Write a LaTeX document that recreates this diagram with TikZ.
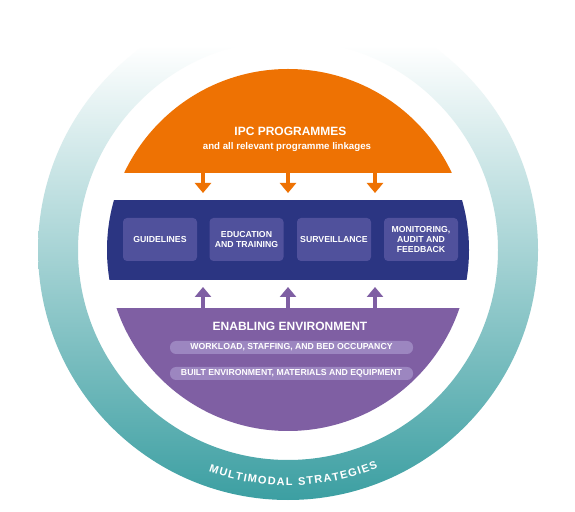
\documentclass[tikz,border=0pt]{standalone}
\usepackage{fontspec}
\setmainfont{Liberation Sans}
\usetikzlibrary{arrows.meta}
\definecolor{ipcorange}{RGB}{238,114,3}
\definecolor{navyband}{RGB}{43,53,130}
\definecolor{boxblue}{RGB}{80,81,156}
\definecolor{envpurple}{RGB}{127,95,163}
\definecolor{barpurple}{RGB}{156,134,192}
\definecolor{ringteal}{RGB}{60,159,162}
\begin{document}
\begin{tikzpicture}[x=1pt,y=1pt,
  box/.style={fill=boxblue, rounded corners=4pt, minimum width=74pt, minimum height=43pt,
    inner sep=0pt, text=white, font=\bfseries\fontsize{8.7}{10}\selectfont, align=center},
  bar/.style={fill=barpurple, rounded corners=6pt, minimum width=243pt, minimum height=13pt,
    inner sep=0pt, text=white, font=\bfseries\fontsize{8.7}{10}\selectfont},
  headtext/.style={text=white, inner sep=0pt, font=\bfseries\fontsize{12}{14}\selectfont},
  subtext/.style={text=white, inner sep=0pt, font=\bfseries\fontsize{9.7}{12}\selectfont},
  ringchar/.style={text=white, inner sep=0pt, anchor=base, font=\bfseries\fontsize{11}{13}\selectfont},
  downarrow/.style={draw=ipcorange, line width=3.5pt, -{Triangle[width=16pt,length=10pt,fill=ipcorange]}},
  uparrow/.style={draw=envpurple, line width=3.5pt, -{Triangle[width=16pt,length=10pt,fill=envpurple]}}
]
\useasboundingbox (0,0) rectangle (575,511);
\fill[white] (0,0) rectangle (575,511);
\coordinate (C) at (288,261);

% outer ring, fading to white at the top
\begin{scope}[even odd rule]
  \clip (C) circle (250pt) (C) circle (210pt);
  \shade[top color=white, bottom color=ringteal] (0,11) rectangle (575,466);
  \fill[white] (0,466) rectangle (575,511);
\end{scope}

% inner disc segments
\begin{scope}
  \clip (C) circle (181pt);
  \fill[ipcorange] (0,338) rectangle (575,511);
  \fill[navyband] (0,231) rectangle (575,311);
  \fill[envpurple] (0,0) rectangle (575,203);
\end{scope}

% texts of the orange part
\node[headtext] (ipc) at (290.5,380) {IPC PROGRAMMES};
\node[subtext] (ipcsub) at (287,364) {and all relevant programme linkages};

% boxes in the navy band
\node[box] (guide) at (160,271.5) {GUIDELINES};
\node[box] (edu) at (246.5,271.5) {EDUCATION\\AND TRAINING};
\node[box] (surv) at (334,271.5) {SURVEILLANCE};
\node[box] (mon) at (421,271.5) {MONITORING,\\AUDIT AND\\FEEDBACK};

% enabling environment
\node[headtext] (env) at (290,185) {ENABLING ENVIRONMENT};
\node[bar] (work) at (291.5,163.5) {WORKLOAD, STAFFING, AND BED OCCUPANCY};
\node[bar] (built) at (291.5,137.5) {BUILT ENVIRONMENT, MATERIALS AND EQUIPMENT};

% arrows
\foreach \n/\x in {a/203,b/288,c/375}{
  \coordinate (os\n) at (\x,338);
  \coordinate (oe\n) at (\x,318);
  \coordinate (ps\n) at (\x,203);
  \coordinate (pe\n) at (\x,224);
  \draw[downarrow] (os\n) -- (oe\n);
  \draw[uparrow] (ps\n) -- (pe\n);
}

% curved ring text
\foreach \ch/\p in {M/4.58,U/14.43,L/23.06,T/31.08,I/37.27,M/44.68,O/54.84,D/64.39,A/73.63,L/82.26,
                    S/94.95,T/103.28,R/111.91,A/121.15,T/129.78,E/138.11,G/147.36,I/154.47,E/160.97,S/169.61}{
  \pgfmathsetmacro\ang{271.5+(\p-87.1)*0.2434}
  \path (C) ++(\ang:235.4pt) node[ringchar, rotate=\ang+90] {\ch};
}
\end{tikzpicture}
\end{document}
